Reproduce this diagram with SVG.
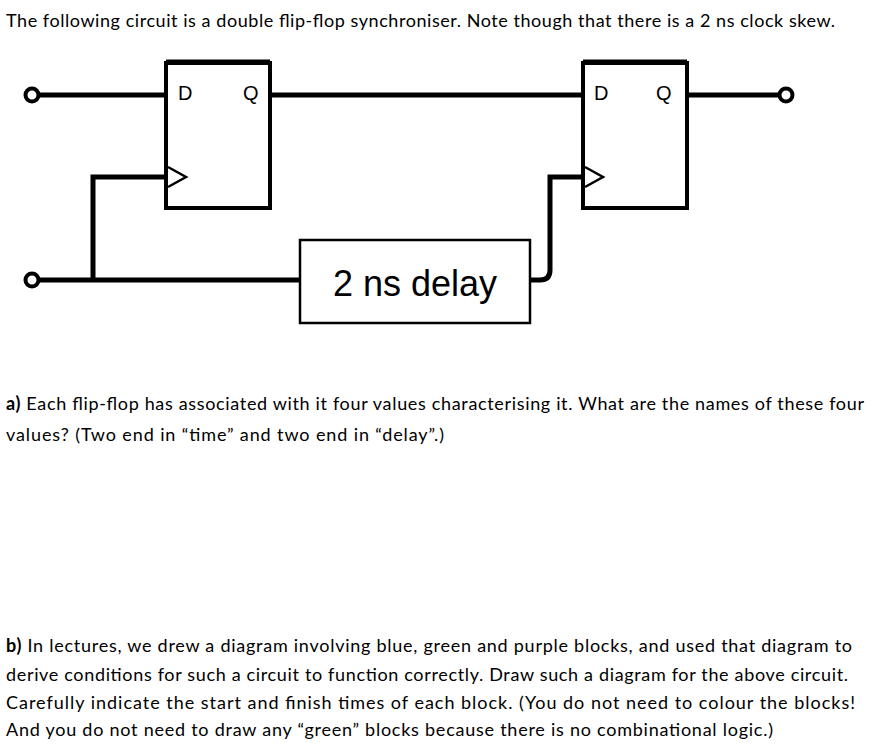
<svg xmlns="http://www.w3.org/2000/svg" width="877" height="756" viewBox="0 0 877 756">
<style>
.t{font-family:Lato,"Liberation Sans",sans-serif;font-size:18px;fill:#000}
.w{stroke:#000;stroke-width:5;fill:none}
.b{stroke:#000;stroke-width:4;fill:#fff}
.l{font-family:"Liberation Sans",Arial,sans-serif;font-size:20px}
.p{stroke:#000;stroke-width:4;fill:#fff}
</style>
<rect width="877" height="756" fill="#fff"/>
<text class="t" x="6" y="27" textLength="829">The following circuit is a double flip-flop synchroniser. Note though that there is a 2 ns clock skew.</text>
<g id="connectors">
<path class="w" d="M38 95H166M272 95H582M688 95H779"/>
<path class="w" d="M38 280H300M93 280V177H168"/>
<path class="w" d="M530 280H540Q550 280 550 270V177H584"/>
</g>
<g id="in_d"><circle class="p" cx="32" cy="95" r="6.5"/></g>
<g id="in_clk"><circle class="p" cx="32" cy="280" r="6.5"/></g>
<g id="out_q"><circle class="p" cx="786" cy="95" r="6.5"/></g>
<g id="ff1">
<rect class="b" x="166" y="63" width="104" height="145"/>
<path d="M166 62H270" stroke="#000" stroke-width="5"/>
<path d="M168 167L186 177L168 187" stroke="#000" stroke-width="2.5" fill="none"/>
<text class="l" x="178" y="100">D</text><text class="l" x="243" y="100">Q</text>
</g>
<g id="ff2">
<rect class="b" x="583" y="63" width="104" height="145"/>
<path d="M583 62H687" stroke="#000" stroke-width="5"/>
<path d="M585 167L603 177L585 187" stroke="#000" stroke-width="2.5" fill="none"/>
<text class="l" x="594" y="100">D</text><text class="l" x="656" y="100">Q</text>
</g>
<g id="delay">
<rect x="300" y="240" width="230" height="83" fill="#fff" stroke="#000" stroke-width="2.5"/>
<text x="415" y="296" text-anchor="middle" font-family="'Liberation Sans',Arial,sans-serif" font-size="36">2 ns delay</text>
</g>
<text class="t" x="6" y="410" textLength="858"><tspan font-weight="bold">a)</tspan> Each flip-flop has associated with it four values characterising it. What are the names of these four</text>
<text class="t" x="6" y="441" textLength="438">values? (Two end in “time” and two end in “delay”.)</text>
<text class="t" x="6" y="652" textLength="846"><tspan font-weight="bold">b)</tspan> In lectures, we drew a diagram involving blue, green and purple blocks, and used that diagram to</text>
<text class="t" x="6" y="681" textLength="842">derive conditions for such a circuit to function correctly. Draw such a diagram for the above circuit.</text>
<text class="t" x="6" y="709" textLength="849">Carefully indicate the start and finish times of each block.  (You do not need to colour the blocks!</text>
<text class="t" x="6" y="736" textLength="767">And you do not need to draw any “green” blocks because there is no combinational logic.)</text>
</svg>
